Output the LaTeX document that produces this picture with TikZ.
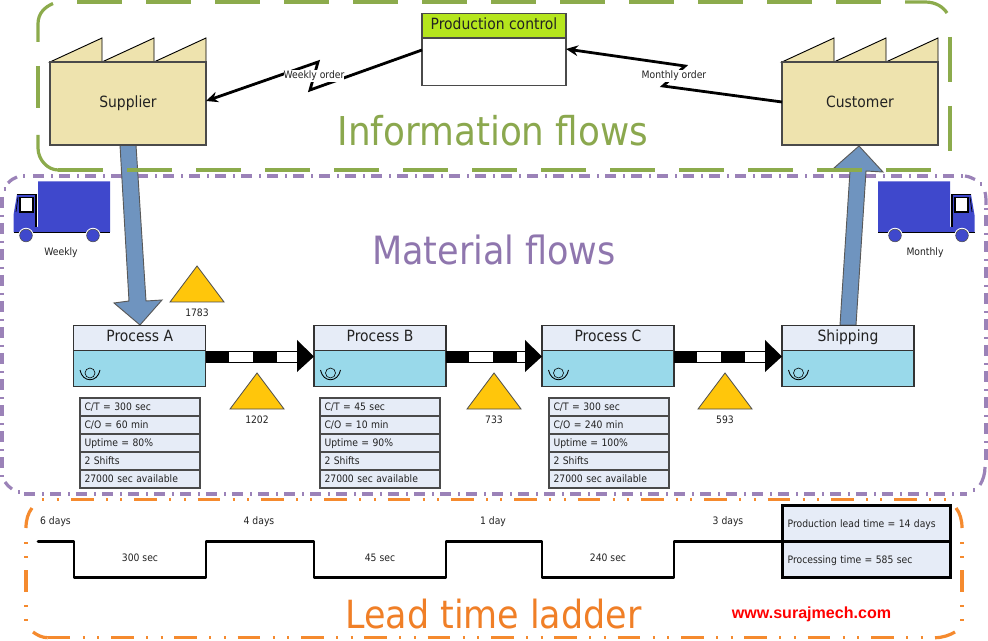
\documentclass[tikz,border=0pt]{standalone}
\usepackage{fontspec}
\setmainfont{DejaVu Sans Condensed}
\newfontfamily\webfont{Liberation Sans}
\usetikzlibrary{arrows.meta}
\definecolor{cgreen}{HTML}{8CAB4C}
\definecolor{cpurple}{HTML}{9B82B8}
\definecolor{corange}{HTML}{F58A2E}
\definecolor{ctitlegreen}{HTML}{8BA84E}
\definecolor{ctitlepurple}{HTML}{8F76AE}
\definecolor{ctitleorange}{HTML}{F07F27}
\definecolor{cfactory}{HTML}{EEE3AE}
\definecolor{cpale}{HTML}{E6ECF7}
\definecolor{ccyan}{HTML}{99D9EA}
\definecolor{clime}{HTML}{B5E61D}
\definecolor{cblue}{HTML}{3F48CC}
\definecolor{cpush}{HTML}{6F94BF}
\definecolor{cgold}{HTML}{FFC60B}
\definecolor{cedge}{HTML}{4A4A4A}
\definecolor{ctext}{HTML}{222222}
\tikzset{
 x=0.75pt,y=-0.75pt,
 every node/.style={text=ctext,inner sep=0pt,outer sep=0pt},
 small/.style={font=\fontsize{7.7}{9}\selectfont},
 medium/.style={font=\fontsize{11.6}{13}\selectfont,text height=8.6pt,text depth=2.4pt},
 bigi/.style={font=\fontsize{29.8}{34}\selectfont},
 bigm/.style={font=\fontsize{29.2}{34}\selectfont},
 bigl/.style={font=\fontsize{29.1}{34}\selectfont},
 factorybody/.style={draw=cedge,line width=.9pt,fill=cfactory,minimum width=117pt,minimum height=62.25pt,medium},
 factoryroof/.style={draw=black,line width=.7pt,fill=cfactory},
 header/.style={draw=black!80,line width=.9pt,fill=cpale,minimum width=99pt,minimum height=18.75pt,medium},
 procbody/.style={draw=black!80,line width=.9pt,fill=ccyan,minimum width=99pt,minimum height=27pt},
 datarow/.style={draw=cedge,line width=.9pt,fill=cpale,minimum width=90pt,minimum height=13.5pt,small,align=left,text width=83.25pt,text height=7.2pt,text depth=1.6pt},
 tri/.style={draw=black!70,line width=.6pt,fill=cgold},
 pusharrow/.style={draw=black!65,line width=.7pt,fill=cpush,line join=miter},
 kanban/.style={draw=black,line width=2.1pt,line join=miter},
 ladder/.style={draw=black,line width=2.2pt,line join=round,line cap=round},
 wheel/.style={circle,fill=cblue,draw=black!70,line width=.4pt,minimum size=9.5pt,preaction={draw=white,line width=2pt}},
 labelbg/.style={fill=white,small,inner xsep=0pt,inner ysep=1pt},
 summary/.style={draw=black,line width=2.2pt,fill=cpale,minimum width=126.4pt,minimum height=27pt,small,align=left,text width=118pt,text height=7.2pt,text depth=1.6pt},
 gframe/.style={cgreen,line width=2.4pt},
 gdash/.style={gframe,dash pattern=on 33.75pt off 18pt},
 pframe/.style={cpurple,line width=2.4pt},
 pdash/.style={pframe,dash pattern=on 8.25pt off 5.25pt on 1.5pt off 4.5pt},
 oframe/.style={corange,line width=2.4pt},
 odash/.style={oframe,dash pattern=on 16.9pt off 9.4pt on 1.5pt off 9.3pt on 1.5pt off 8.9pt},
}
\newcommand{\factoryroofs}[1]{%
 \draw[factoryroof] (#1,62) -- ++(52,-24) -- ++(0,24) -- ++(52,-24) -- ++(0,24) -- ++(52,-24) -- ++(0,24) -- cycle;}
\newcommand{\operatoricon}[1]{%
 \draw[black,line width=.45pt] (#1+16.5,373) circle[radius=5];
 \draw[black,line width=.65pt] (#1+6.5,370) .. controls (#1+9,383) and (#1+24,383) .. (#1+26.5,370);}
\newcommand{\triangleitem}[3]{%
 \draw[tri] (#1-27,#2) -- (#1,#2-36) -- (#1+27,#2) -- cycle;
 \node[small] at (#1,#2+11) {#3};}
\newcommand{\striped}[2]{%
 \begin{scope}[shift={(#1,0)}]
 \fill[white] (0,351) rectangle (#2-17,362);
 \draw[black,line width=.7pt] (0,351) rectangle (#2-17,362);
 \fill[black] (0,351) rectangle (23,362);
 \fill[black] (47,351) rectangle (71,362);
 \fill[black] (#2-17,340) -- (#2,356.5) -- (#2-17,372) -- cycle;
 \end{scope}}
\newcommand{\truckshape}{%
 \fill[cblue] (13.5,232) -- (13.5,215) -- (17,194.5) -- (36,194.5) -- (36,227) -- (38,227) -- (38,181.5) -- (110,181.5) -- (110,232) -- cycle;
 \draw[black,line width=.7pt] (13.5,232) -- (110,232);
 \draw[black,line width=.8pt] (17,194.5) -- (36,194.5) -- (36,227);
 \draw[black,line width=.8pt,fill=white] (20,197.5) rectangle (33,212);
 \draw[black,line width=.5pt] (18,197) -- (16,212);}
\begin{document}
\begin{tikzpicture}
\useasboundingbox (0,0) rectangle (988,641);
\fill[white] (0,0) rectangle (988,641);
% purple frame
\draw[pdash] (33,176) -- (964,176);
\draw[pdash] (986,215) -- (986,462);
\draw[pdash] (24,494) -- (967,494);
\draw[pdash] (2,197) -- (2,477);
\draw[pframe] (8,183) .. controls (11,180) and (14,178) .. (17,177);
\draw[pframe] (965,176) .. controls (969,176.5) and (972,178) .. (975,179.5);
\draw[pframe] (985,192) .. controls (986,196) and (986,200) .. (986,205);
\draw[pframe] (985,467) .. controls (985,474) and (983,480) .. (980,485);
\draw[pframe] (5,482) .. controls (7,485) and (9,487) .. (12,489);
\foreach \px/\py in {3.5/189,23/176,980/184,973/490,18/492}{\draw[pframe] (\px,\py) -- (\px+2,\py);}
\draw[pframe] (986,208.5) -- (986,210.5);
% orange frame
\draw[odash] (71,499.7) -- (948,499.7);
\draw[odash] (47.7,637.7) -- (925,637.7);
\foreach \ox in {26,962}{
 \draw[oframe] (\ox,570) -- (\ox,592);
 \foreach \oy in {542,556,605,619}{\draw[oframe] (\ox,\oy) -- (\ox,\oy+2);}
}
\foreach \ox in {42,56.5}{\draw[oframe] (\ox,499.7) -- (\ox+2,499.7);}
\draw[oframe] (32,508) .. controls (28,513) and (26,520) .. (26,528);
\draw[oframe] (956,508) .. controls (960,513) and (962,520) .. (962,528);
\draw[oframe] (33,632) .. controls (37,635) and (42,637.7) .. (47.7,637.7);
\draw[oframe] (955,632) .. controls (950,635) and (943,637.7) .. (935,637.7);
% push arrows
\draw[pusharrow] (120,145) -- (136,145) -- (146,301) -- (162,300) -- (140,325) -- (114,303) -- (129,301) -- cycle;
\draw[pusharrow] (840,325) -- (850,171) -- (834,168) -- (859,146) -- (883,172) -- (866,171) -- (856,325) -- cycle;
% green frame
\draw[gdash] (77,2) -- (904,2);
\draw[gframe] (905,2) -- (925,2) .. controls (936,2) and (943,7) .. (947,13);
\draw[gdash] (950,37) -- (950,152);
\draw[gdash] (58,170) -- (932,170);
\draw[gframe] (38,135) -- (38,148) .. controls (38,160) and (48,170) .. (58,170);
\draw[gframe] (38,66) -- (38,108);
\draw[gframe] (38,42) -- (38,24) .. controls (38,13) and (45,7) .. (53,3.5);
% titles
\node[bigi,text=ctitlegreen] (tinfo) at (493,131) {Information flows};
\node[bigm,text=ctitlepurple] (tmat) at (494,250) {Material flows};
\node[bigl,text=ctitleorange] (tlead) at (493.5,614) {Lead time ladder};
% factories
\factoryroofs{50}
\factoryroofs{782}
\node[factorybody] (supplier) at (128,103.5) {Supplier};
\node[factorybody] (customer) at (860,103.5) {Customer};
% production control
\node[draw=cedge,line width=.9pt,fill=clime,minimum width=108pt,minimum height=18.5pt,medium] (pchead) at (494,25.75) {Production control};
\node[draw=cedge,line width=.9pt,fill=white,minimum width=108pt,minimum height=35.5pt] (pcbody) at (494,61.75) {};
% kanban connectors
\coordinate (wa) at (310,90);
\coordinate (wb) at (318,62);
\coordinate (ma) at (663,86);
\coordinate (mb) at (685,66);
\draw[kanban,-{Stealth[length=9pt,width=8pt]}] (pcbody.west |- 0,50) -- (wa) -- (wb) -- (supplier.east |- 0,101);
\draw[kanban,-{Stealth[length=9pt,width=8pt]}] (customer.west |- 0,102) -- (ma) -- (mb) -- (pcbody.east |- 0,49);
\node[labelbg] (wlabel) at (314,76) {Weekly order};
\node[labelbg] (mlabel) at (674,76) {Monthly order};
% trucks
\truckshape
\begin{scope}[xshift=741pt,xscale=-1]
\truckshape
\end{scope}
\node[wheel] (wl1) at (26,235.5) {};
\node[wheel] (wl2) at (93,235.5) {};
\node[small] (wkly) at (61,253) {Weekly};
\node[wheel] (wr1) at (895,235.5) {};
\node[wheel] (wr2) at (962,235.5) {};
\node[small] (mnth) at (925,253) {Monthly};
% process boxes
\node[procbody] (ba) at (139.75,368.5) {};
\node[header] (ha) at (139.75,337.75) {Process A};
\node[procbody] (bb) at (380,368.5) {};
\node[header] (hb) at (380,337.75) {Process B};
\node[procbody] (bc) at (608,368.5) {};
\node[header] (hc) at (608,337.75) {Process C};
\node[procbody] (bs) at (848,368.5) {};
\node[header] (hs) at (848,337.75) {Shipping};
\operatoricon{73.5}
\operatoricon{314}
\operatoricon{542}
\operatoricon{782}
% striped arrows
\striped{206}{108}
\striped{446}{96}
\striped{674}{108}
% triangles
\triangleitem{197}{302}{1783}
\triangleitem{257}{409}{1202}
\triangleitem{494}{409}{733}
\triangleitem{725}{409}{593}
% data boxes
\node[datarow] (a1) at (140,407) {C/T = 300 sec};
\node[datarow] (a2) at (140,425) {C/O = 60 min};
\node[datarow] (a3) at (140,443) {Uptime = 80\%};
\node[datarow] (a4) at (140,461) {2 Shifts};
\node[datarow] (a5) at (140,479) {27000 sec available};
\node[datarow] (b1) at (380,407) {C/T = 45 sec};
\node[datarow] (b2) at (380,425) {C/O = 10 min};
\node[datarow] (b3) at (380,443) {Uptime = 90\%};
\node[datarow] (b4) at (380,461) {2 Shifts};
\node[datarow] (b5) at (380,479) {27000 sec available};
\node[datarow] (c1) at (609,407) {C/T = 300 sec};
\node[datarow] (c2) at (609,425) {C/O = 240 min};
\node[datarow] (c3) at (609,443) {Uptime = 100\%};
\node[datarow] (c4) at (609,461) {2 Shifts};
\node[datarow] (c5) at (609,479) {27000 sec available};
% ladder
\draw[ladder] (38,541.5) -- (74,541.5) -- (74,577.5) -- (206,577.5) -- (206,541.5) -- (314,541.5) -- (314,577.5) -- (446,577.5) -- (446,541.5) -- (542,541.5) -- (542,577.5) -- (674,577.5) -- (674,541.5) -- (782,541.5);
\node[summary] (s1) at (866.3,523.6) {Production lead time = 14 days};
\node[summary] (s2) at (866.3,559.6) {Processing time = 585 sec};
\node[small] (d1) at (55.5,522) {6 days};
\node[small] (p1) at (140,558) {300 sec};
\node[small] (d2) at (259,522) {4 days};
\node[small] (p2) at (380,558) {45 sec};
\node[small] (d3) at (493,522) {1 day};
\node[small] (p3) at (608,558) {240 sec};
\node[small] (d4) at (728,522) {3 days};
\node[font=\webfont\bfseries\fontsize{12.05}{14}\selectfont,text=red] (web) at (811.5,614) {www.surajmech.com};
\end{tikzpicture}
\end{document}
